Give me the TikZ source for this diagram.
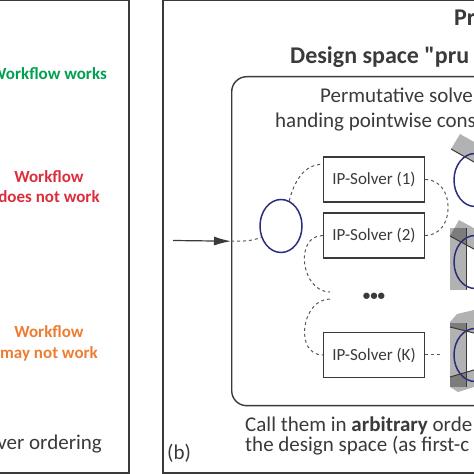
\documentclass[tikz,border=0pt]{standalone}
\usepackage{fontspec}
\setmainfont{Carlito}[Ligatures=TeXOff]
\usetikzlibrary{shapes.geometric,arrows.meta}
\definecolor{textgray}{HTML}{3A3A3A}
\definecolor{navy}{HTML}{2B2C7C}
\definecolor{wgreen}{HTML}{00A050}
\definecolor{wred}{HTML}{DC2D3C}
\definecolor{worange}{HTML}{ED7D31}

\begin{document}
\begin{tikzpicture}[x=1pt,y=1pt,
    wf/.style={font=\fontsize{17}{20}\selectfont\bfseries, inner sep=0pt, anchor=base},
    txt/.style={text=textgray, font=\fontsize{21}{25}\selectfont, inner sep=0pt, anchor=base west},
    head/.style={txt, font=\fontsize{24}{28}\selectfont\bfseries},
    solver/.style={draw=textgray, line width=1.4pt, minimum width=101pt, minimum height=45pt,
        inner sep=0pt, text=textgray, font=\fontsize{17}{20}\selectfont},
    space/.style={ellipse, draw=navy, line width=1.5pt, minimum width=42pt, minimum height=53pt, inner sep=0pt},
    link/.style={dashed, draw=textgray!85, line width=1pt},
    cut/.style={fill=black, fill opacity=0.3},
    cutline/.style={draw=textgray, line width=1pt}]
        \useasboundingbox (0,0) rectangle (474,474);
        \draw[textgray, line width=1.8pt] (-10,1.2) rectangle (129,474.2);
        \draw[textgray, line width=1.8pt] (163,1.2) rectangle (540,474.2);

        \node[wf, text=wgreen] (G) at (49,394) {Workflow works};
        \node[wf, text=wred] (R1) at (49,291) {Workflow};
        \node[wf, text=wred] (R2) at (49,271) {does not work};
        \node[wf, text=worange] (O1) at (49,136) {Workflow};
        \node[wf, text=worange] (O2) at (49,115) {may not work};
        \node[txt, anchor=base east] (T) at (102,24) {ver ordering};

        \node[head] (P) at (454,448) {Pr};
        \node[head] (D) at (290,410) {Design space "pru};
        \node[draw=textgray, line width=1.4pt, rounded corners=15pt, minimum width=310pt,
            minimum height=329pt, anchor=north west] (S) at (231,398) {};
        \node[txt] (S1) at (320,371) {Permutative solve};
        \node[txt] (S2) at (275,346) {handing pointwise cons};

        \node[space] (E0) at (281,248) {};
        \node[solver] (B1) at (374,294.5) {IP-Solver (1)};
        \node[solver] (B2) at (374,238.5) {IP-Solver (2)};
        \node[text=textgray, font=\fontsize{15}{18}\selectfont\bfseries, inner sep=0pt] (DOTS) at (374,177) {\textbullet\textbullet\textbullet};
        \node[solver] (BK) at (374,119) {IP-Solver (K)};

        \fill[cut] (451,325) -- (460,340) -- (480,328.7) -- (480,308.6) -- cycle;
        \fill[cut] (450,184) rectangle (466,246);
        \fill[cut] (450,238) -- (459,254) -- (480,242.5) -- (480,221.6) -- cycle;
        \fill[cut] (450,87) rectangle (466,151);
        \fill[cut] (450,147) -- (450,152) -- (457,160) -- (480,165.4) -- (480,139.5) -- cycle;
        \fill[cut] (450,97) -- (480,105.8) -- (480,88.9) -- (458,82) -- (450,87) -- cycle;
        \node[space] (E1) at (475,294) {};
        \node[space] (E2) at (475,212) {};
        \node[space] (E3) at (475,119) {};
        \draw[cutline] (451,325) -- (480,308.6);
        \draw[cutline] (450,238) -- (480,221.6);
        \draw[cutline] (466,184) -- (466,246);
        \draw[cutline] (450,147) -- (480,139.5);
        \draw[cutline] (450,97) -- (480,105.8);
        \draw[cutline] (466,87) -- (466,151);

        \node[txt] (C1) at (245,42) {Call them in \textbf{arbitrary} orde};
        \node[txt] (C2) at (245,22) {the design space (as first-c};
        \node[txt] (LB) at (167,14) {(b)};

        \coordinate (IN) at (173,233.5);
        \coordinate (D1) at (330,182);
        \coordinate (D2) at (330,175);
        \coordinate (KE) at (440,119);
        \draw[textgray, line width=1.2pt, -{Latex[length=17pt,width=9pt]}] (IN) -- (S.west);
        \draw[link] (S.west) to[out=0,in=200] (E0.210);
        \draw[link] (E0.72) to[out=75,in=180] ([yshift=-8pt]B1.north west);
        \draw[link] (B1.east) to[out=0,in=0,looseness=1.4] (B2.east);
        \draw[link] (B2.west) to[out=180,in=180,looseness=1.3] (D1);
        \draw[link] (D2) to[out=180,in=180,looseness=1.3] (BK.west);
        \draw[link] (BK.east) -- (KE);
    \end{tikzpicture}
\end{document}
